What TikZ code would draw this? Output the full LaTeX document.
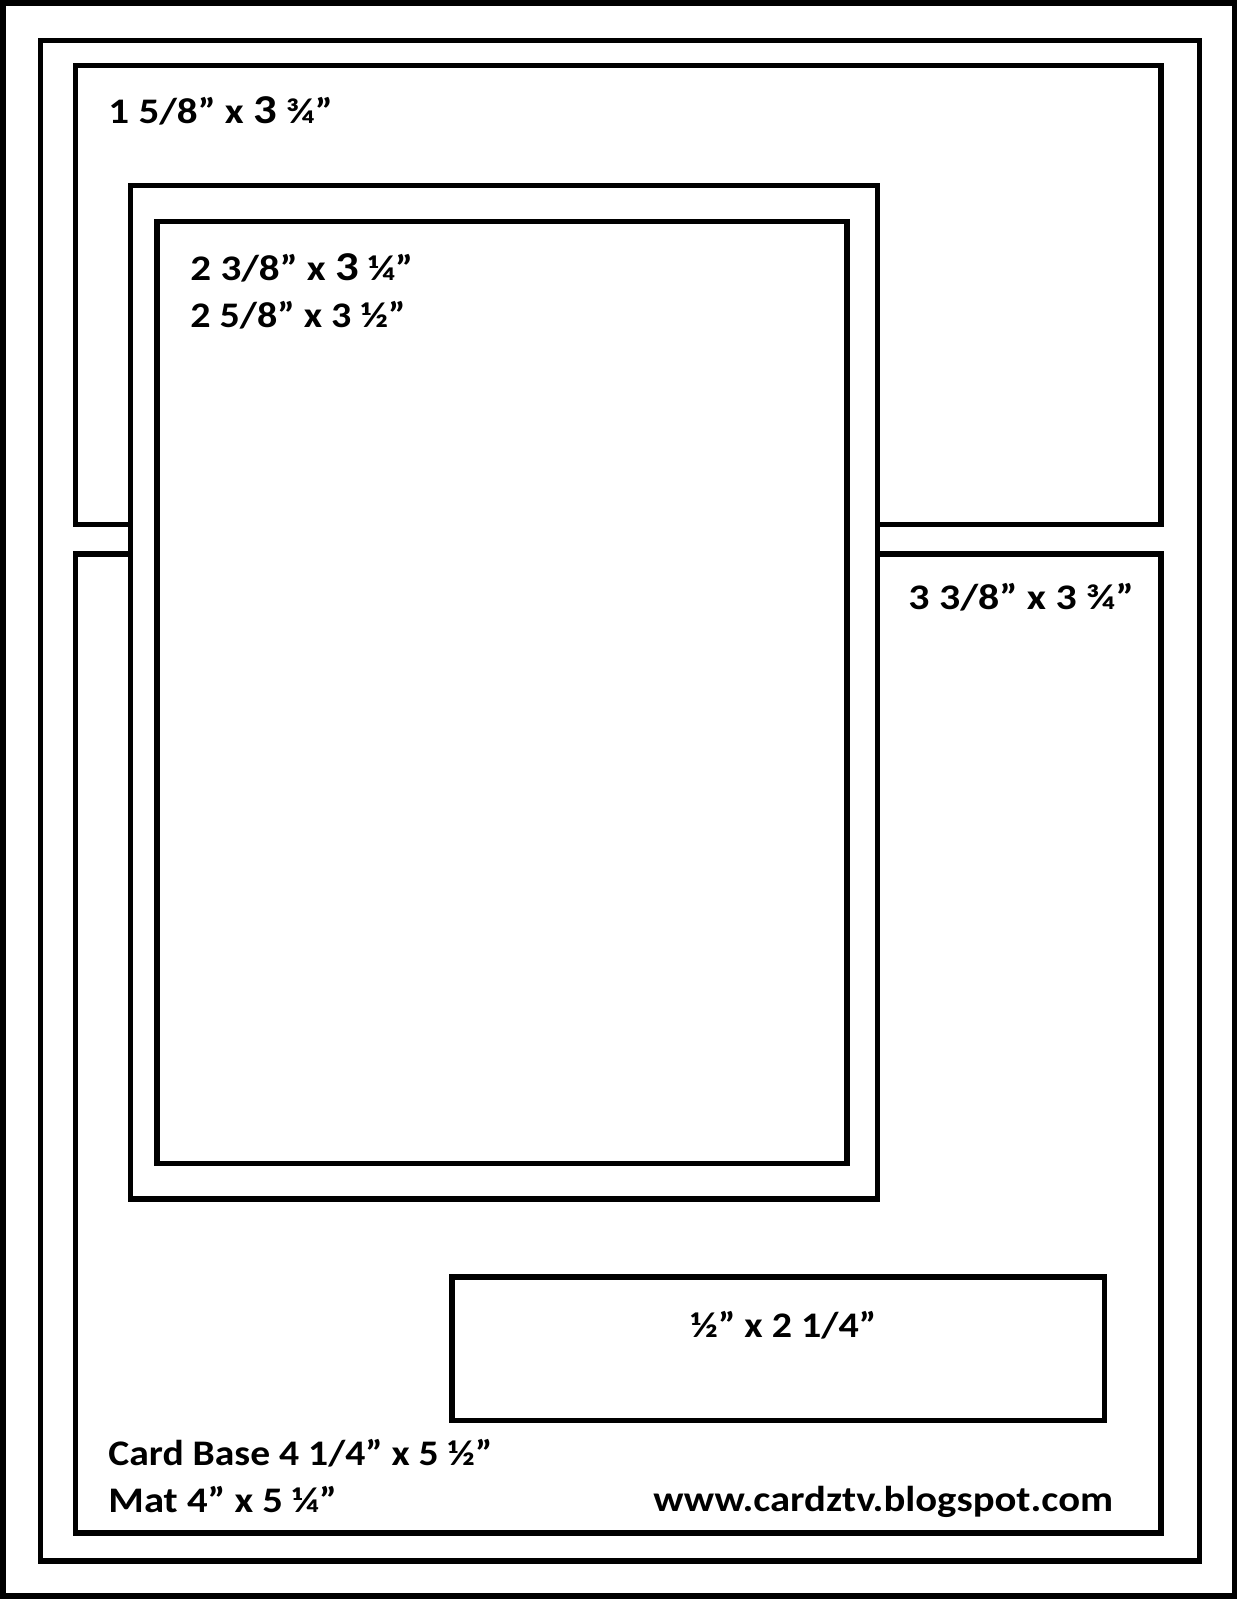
\documentclass[tikz,border=0pt]{standalone}
\usepackage{fontspec}
\setmainfont{Carlito}[BoldFont={Carlito Bold}]
\begin{document}
\begin{tikzpicture}[x=0.5pt,y=-0.5pt,
  frame/.style={draw=black,line width=2.8pt,fill=white},
  lbl/.style={anchor=base west,inner sep=0pt,font=\bfseries\fontsize{18}{18}\selectfont}]
\newcommand\lgthree{{\fontsize{20.5}{20.5}\selectfont 3}}
\useasboundingbox (0,0) rectangle (1238,1600);
\fill[white] (0,0) rectangle (1238,1600);
% borders
\draw[frame] (3,3) rectangle (1234.5,1596);
\draw[frame] (40.5,40.5) rectangle (1199.5,1561);
% panels
\draw[frame] (75.5,65.5) rectangle (1161,524.5);
\draw[frame] (75.5,554) rectangle (1161,1533);
% mat and photo
\draw[frame] (130.5,185.5) rectangle (877.5,1199);
\draw[frame] (157,221.5) rectangle (847,1163.5);
% small strip
\draw[frame] (452,1277) rectangle (1104.5,1420.5);
% labels
\node[lbl,xscale=1.14] (t1) at (108,124) {1 5/8” x \lgthree{} ¾”};
\node[lbl,xscale=1.14] (t2) at (190,280) {2 3/8” x \lgthree{} ¼”};
\node[lbl,xscale=1.11] (t3) at (190,327) {2 5/8” x 3 ½”};
\node[lbl,xscale=1.16] (t4) at (908,609) {3 3/8” x 3 ¾”};
\node[lbl,xscale=1.11] (t5) at (690,1337) {½” x 2 1/4”};
\node[lbl,xscale=1.10] (t6) at (108,1465) {Card Base 4 1/4” x 5 ½”};
\node[lbl,xscale=1.13] (t7) at (108,1512) {Mat 4” x 5 ¼”};
\begin{scope}
\clip (600,1400) rectangle (1150,1518);
\node[lbl,xscale=1.13] (t8) at (653,1511) {www.cardztv.blogspot.com};
\end{scope}
\end{tikzpicture}
\end{document}
